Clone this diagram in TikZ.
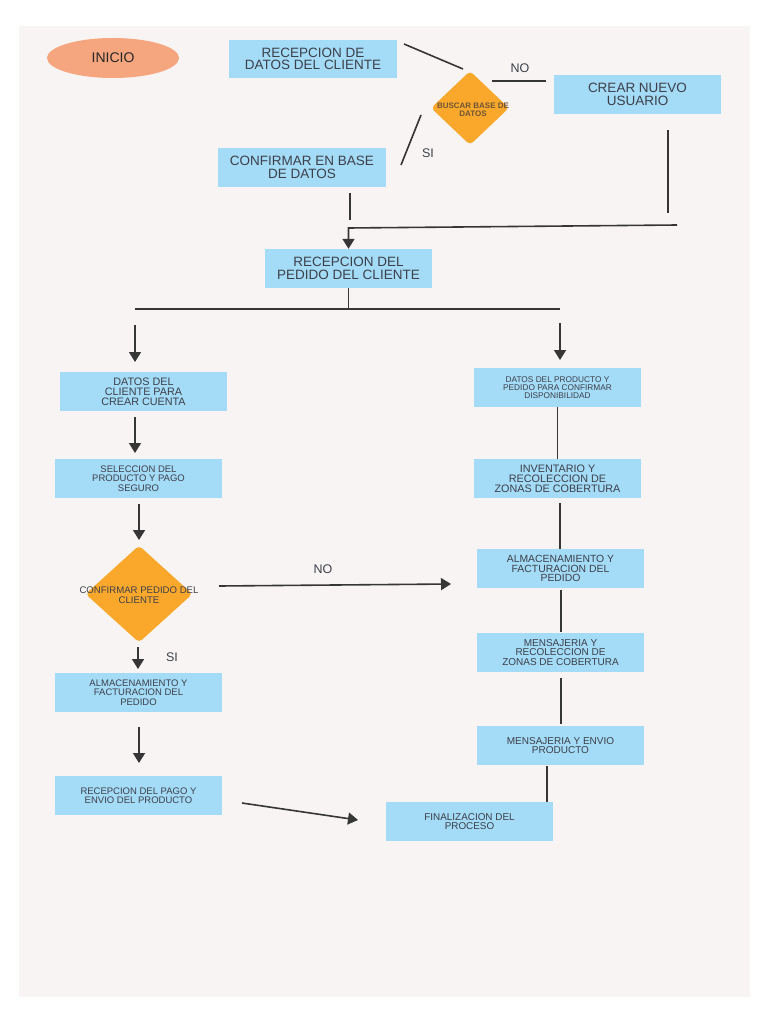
\documentclass[tikz,border=0pt]{standalone}
\usepackage{fontspec}
\setmainfont{Liberation Sans}
\usetikzlibrary{shapes.geometric,arrows.meta}
\definecolor{page}{HTML}{F8F4F3}
\definecolor{boxblue}{HTML}{A4DBF7}
\definecolor{dorange}{HTML}{F9A82C}
\definecolor{salmon}{HTML}{F5A67E}
\definecolor{txt}{HTML}{3C4049}
\definecolor{ln}{HTML}{363636}
\definecolor{dtxt}{HTML}{6E5536}
\tikzset{
  box/.style={fill=boxblue, minimum width=167pt, minimum height=39pt, inner sep=0pt, text=txt, align=center},
  dia/.style={diamond, fill=dorange, rounded corners=4pt, inner sep=0pt},
  conn/.style={draw=ln, line width=1.6pt},
  arr/.style={conn, -{Triangle[width=12pt,length=10pt]}},
  lbl/.style={text=txt, font=\fontsize{12.5}{12.5}\selectfont},
  big/.style={font=\fontsize{13.5}{12.5}\selectfont},
  mid/.style={font=\fontsize{10.8}{10}\selectfont},
  sml/.style={font=\fontsize{9.5}{9.3}\selectfont},
  tiny/.style={font=\fontsize{8.3}{8}\selectfont},
}
\begin{document}
\begin{tikzpicture}[x=1pt,y=-1pt]
\useasboundingbox (0,0) rectangle (768,1024);
\fill[white] (0,0) rectangle (768,1024);
\fill[page] (19,26) rectangle (750,997);

% nodes
\node[ellipse, fill=salmon, minimum width=132pt, minimum height=40pt, inner sep=0pt, text=black!85, font=\fontsize{14}{14}\selectfont] (inicio) at (113,58) {INICIO};
\node[box, minimum width=168pt, minimum height=38pt, big] (rdc) at (313,59) {RECEPCION DE\\DATOS DEL CLIENTE};
\node[dia, minimum width=78pt, minimum height=74pt] (d1) at (470,108) {};
\node[text=dtxt, align=center, font=\fontsize{8}{7.6}\selectfont\bfseries] (d1t) at (473,110) {BUSCAR BASE DE\\DATOS};
\node[box, big] (cnu) at (637.5,94.5) {CREAR NUEVO\\USUARIO};
\node[box, minimum width=168pt, big] (ceb) at (302,167.5) {CONFIRMAR EN BASE\\DE DATOS};
\node[box, big] (rpc) at (348.5,268.5) {RECEPCION DEL\\PEDIDO DEL CLIENTE};

\node[box, mid] (l1) at (143.5,391.5) {DATOS DEL\\CLIENTE PARA\\CREAR CUENTA};
\node[box, sml] (l2) at (138.5,478.5) {SELECCION DEL\\PRODUCTO Y PAGO\\SEGURO};
\node[dia, minimum width=107pt, minimum height=97pt] (d2) at (139,594) {};
\node[text=txt, align=center, font=\fontsize{9.6}{9.6}\selectfont] (d2t) at (139,595) {CONFIRMAR PEDIDO DEL\\CLIENTE};
\node[box, sml] (l3) at (138.5,692.5) {ALMACENAMIENTO Y\\FACTURACION DEL\\PEDIDO};
\node[box, sml] (l4) at (138.5,795.5) {RECEPCION DEL PAGO Y\\ENVIO DEL PRODUCTO};

\node[box, tiny] (r1) at (557.5,387.5) {DATOS DEL PRODUCTO Y\\PEDIDO PARA CONFIRMAR\\DISPONIBILIDAD};
\node[box, mid] (r2) at (557.5,478.5) {INVENTARIO Y\\RECOLECCION DE\\ZONAS DE COBERTURA};
\node[box, font=\fontsize{10.4}{9.8}\selectfont] (r3) at (560.5,568.5) {ALMACENAMIENTO Y\\FACTURACION DEL\\PEDIDO};
\node[box, font=\fontsize{10}{9.8}\selectfont] (r4) at (560.5,652.5) {MENSAJERIA Y\\RECOLECCION DE\\ZONAS DE COBERTURA};
\node[box, font=\fontsize{10}{9.6}\selectfont] (r5) at (560.5,745.5) {MENSAJERIA Y ENVIO\\PRODUCTO};
\node[box, font=\fontsize{9.9}{9.6}\selectfont] (fin) at (469.5,821.5) {FINALIZACION DEL\\PROCESO};

% labels
\node[lbl] (no1) at (520,68) {NO};
\node[lbl] (si1) at (428,153) {SI};
\node[lbl] (no2) at (323,569) {NO};
\node[lbl] (si2) at (172,657) {SI};

% free-end coordinates
\coordinate (a1) at (404,44);
\coordinate (a2) at (463,69);
\coordinate (b1) at (492,81);
\coordinate (b2) at (546,81);
\coordinate (c1) at (421,115);
\coordinate (c2) at (401,165);
\coordinate (e1) at (350,193);
\coordinate (e2) at (350,220);
\coordinate (f1) at (668,130);
\coordinate (f2) at (668,213);
\coordinate (g1) at (677,225);
\coordinate (g2) at (348.5,228);
\coordinate (h1) at (348.5,309);
\coordinate (hl) at (135,309);
\coordinate (hr) at (560,309);
\coordinate (i1) at (135,325);
\coordinate (i2) at (135,362);
\coordinate (j1) at (560,323);
\coordinate (j2) at (560,360);
\coordinate (k1) at (135,417);
\coordinate (k2) at (135,453);
\coordinate (m1) at (139,504);
\coordinate (m2) at (139,540);
\coordinate (n1) at (138,647);
\coordinate (n2) at (138,669);
\coordinate (o1) at (139,727);
\coordinate (o2) at (139,763);
\coordinate (p1) at (242,803);
\coordinate (p2) at (358,820);
\coordinate (q1) at (219,586);
\coordinate (q2) at (451,584);
\coordinate (s1) at (560,503);
\coordinate (t1) at (561,590);
\coordinate (t2) at (561,632);
\coordinate (u1) at (561,678);
\coordinate (u2) at (561,724);
\coordinate (v1) at (547,766);

% connectors
\draw[conn] (a1) -- (a2);
\draw[conn] (b1) -- (b2);
\draw[conn] (c1) -- (c2);
\draw[conn] (e1) -- (e2);
\draw[conn] (f1) -- (f2);
\draw[arr] (g1) -- (g2) -- (rpc.north);
\draw[conn] (rpc.south) -- (h1);
\draw[conn] (hl) -- (hr);
\draw[arr] (i1) -- (i2);
\draw[arr] (j1) -- (j2);
\draw[arr] (k1) -- (k2);
\draw[arr] (m1) -- (m2);
\draw[arr] (n1) -- (n2);
\draw[arr] (o1) -- (o2);
\draw[arr] (p1) -- (p2);
\draw[arr] (q1) -- (q2);
\draw[conn] (r1.south) -- (r2.north);
\draw[conn] (s1) -- (r3.north -| s1);
\draw[conn] (t1) -- (t2);
\draw[conn] (u1) -- (u2);
\draw[conn] (v1) -- (fin.north -| v1);
\end{tikzpicture}
\end{document}
